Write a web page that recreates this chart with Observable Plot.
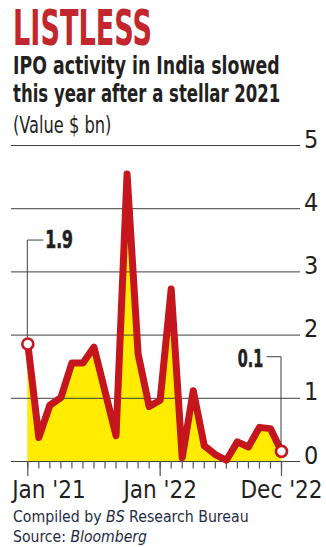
<!DOCTYPE html>
<html><head><meta charset="utf-8">
<script src="https://cdn.jsdelivr.net/npm/d3@7"></script>
<script src="https://cdn.jsdelivr.net/npm/@observablehq/plot@0.6"></script>
<style>
html,body{margin:0;padding:0;background:#fff;}
#wrap{position:relative;width:326px;height:547px;overflow:hidden;font-family:"Liberation Sans Narrow","DejaVu Sans Condensed","Roboto",sans-serif;font-stretch:condensed;}
.ln{position:absolute;white-space:nowrap;line-height:1;left:0;top:0;}
#chart{position:absolute;left:0;top:122px;}
</style></head><body>
<div id="wrap">
<div class="ln" id="t1" style="font-size:49px;font-weight:700;color:#c1272d">LISTLESS</div>
<div class="ln" id="t2" style="font-size:24px;font-weight:700;color:#231f20">IPO activity in India slowed</div>
<div class="ln" id="t3" style="font-size:24px;font-weight:700;color:#231f20">this year after a stellar 2021</div>
<div class="ln" id="t4" style="font-size:23px;font-weight:400;color:#231f20">(Value $ bn)</div>
<div id="chart"></div>
<div class="ln" id="f1" style="font-size:16px;color:#1f2a44">Compiled by <i>BS</i> Research Bureau</div>
<div class="ln" id="f2" style="font-size:16px;color:#1f2a44">Source: <i>Bloomberg</i></div>
</div>
<script>
// Data
const months = ["Jan '21","Feb '21","Mar '21","Apr '21","May '21","Jun '21","Jul '21","Aug '21","Sep '21","Oct '21","Nov '21","Dec '21",
                "Jan '22","Feb '22","Mar '22","Apr '22","May '22","Jun '22","Jul '22","Aug '22","Sep '22","Oct '22","Nov '22","Dec '22"];
const values = [1.86,0.38,0.89,1.01,1.56,1.56,1.81,1.11,0.41,4.55,1.70,0.87,
                0.97,2.73,0.06,1.12,0.25,0.11,0.02,0.31,0.23,0.54,0.52,0.16];
const yTicks = [0,1,2,3,4,5];
const tickIdx = [0,12,23];
const tickLabels = ["Jan '21","Jan '22","Dec '22"];
const annotIdx = [0,23];
const annotLabels = ["1.9","0.1"];

const data = months.map((m,i)=>({i, month:m, v:values[i]}));
const labelData = tickIdx.map((i,k)=>({i, label:tickLabels[k]}));
const annData = annotIdx.map((i,k)=>({i, v:values[i], label:annotLabels[k]}));

const RED = "#c5161d", YEL = "#ffec00", INK = "#231f20", GRID = "#3f3f3f";
const FONT = '"Liberation Sans Narrow","DejaVu Sans Condensed","Roboto",sans-serif';

const leaders = (index, scales) => {
  const g = d3.create("svg:g").attr("fill","none").attr("stroke",GRID).attr("stroke-width",1);
  const a = annData[0], b = annData[1];
  const ax = scales.x(a.i), ay = scales.y(a.v);
  g.append("path").attr("d", `M${ax},${ay-6}V${ay-103.4}H${ax+16}`);
  const bx = scales.x(b.i), by = scales.y(b.v);
  g.append("path").attr("d", `M${bx},${by-6}V${by-94.2}H${bx-14.3}`);
  return g.node();
};

const chart = Plot.plot({
  width: 326, height: 386,
  marginTop: 23, marginBottom: 47, marginLeft: 27.3, marginRight: 45,
  style: {fontFamily: FONT, fontStretch: "condensed", background: "transparent", overflow: "visible"},
  x: {type: "linear", domain: [0, 23]},
  y: {domain: [0, 5]},
  marks: [
    Plot.areaY(data, {x: "i", y: "v", fill: YEL}),
    Plot.ruleY(yTicks, {stroke: GRID, strokeWidth: 1, insetLeft: -16.3, insetRight: -19}),
    Plot.axisX({ticks: d3.range(24), tickSize: 7.5, tickFormat: () => "", stroke: "#555", strokeWidth: 1.2, label: null}),
    Plot.axisX({ticks: tickIdx, tickSize: 15, tickFormat: () => "", stroke: "#555", strokeWidth: 1.2, label: null}),
    Plot.axisY({ticks: yTicks, tickFormat: d => String(d), anchor: "right", tickSize: 0, tickPadding: 22.5, fontSize: 25, fill: INK, lineAnchor: "bottom", dy: 2, label: null}),
    Plot.text(labelData.slice(0,1), {x: "i", text: "label", frameAnchor: "bottom", dy: 36.5, dx: -15.6, lineAnchor: "bottom", textAnchor: "start", fontSize: 24, fill: INK}),
    Plot.text(labelData.slice(1), {x: "i", text: "label", frameAnchor: "bottom", dy: 36.5, lineAnchor: "bottom", textAnchor: "middle", fontSize: 24, fill: INK}),
    Plot.lineY(data, {x: "i", y: "v", stroke: RED, strokeWidth: 7, strokeLinejoin: "round", strokeLinecap: "round"}),
    leaders,
    Plot.dot(annData, {x: "i", y: "v", r: 5.5, fill: "white", stroke: RED, strokeWidth: 2.6}),
    Plot.text(annData.slice(0,1), {x: "i", y: "v", text: "label", dx: 17.5, dy: -104.5, textAnchor: "start", lineAnchor: "middle", fontSize: 25.5, fontWeight: 800, fill: INK, stroke: INK, strokeWidth: 0.6}),
    Plot.text(annData.slice(1), {x: "i", y: "v", text: "label", dx: -18.3, dy: -92.7, textAnchor: "end", lineAnchor: "middle", fontSize: 25.5, fontWeight: 800, fill: INK, stroke: INK, strokeWidth: 0.6})
  ]
});
document.getElementById("chart").appendChild(chart);

// tighten the bold annotation labels to the reference widths
const annWidths = {"1.9": 27.7, "0.1": 25.4};
d3.select(chart).selectAll("text").each(function() {
  const w = annWidths[this.textContent];
  if (w) { this.setAttribute("textLength", w); this.setAttribute("lengthAdjust", "spacingAndGlyphs"); }
});

function fit(id, left, right, baseline) {
  const el = document.getElementById(id);
  const mk = document.createElement("span");
  mk.style.cssText = "display:inline-block;width:0;height:0;vertical-align:baseline";
  el.appendChild(mk);
  el.style.left = left + "px"; el.style.top = "0px";
  const r = el.getBoundingClientRect(), m = mk.getBoundingClientRect();
  const base = m.bottom - r.top;
  el.style.top = (baseline - base) + "px";
  el.style.transformOrigin = "0 0";
  el.style.transform = `scaleX(${(right-left)/r.width})`;
}
fit("t1", 12.7, 151.7, 45);
fit("t2", 12.7, 279.3, 74);
fit("t3", 12.7, 280, 101.7);
fit("t4", 12.7, 111, 133.3);
fit("f1", 12.7, 248.3, 521.7);
fit("f2", 12.7, 146.7, 541.7);
</script>
</body></html>
